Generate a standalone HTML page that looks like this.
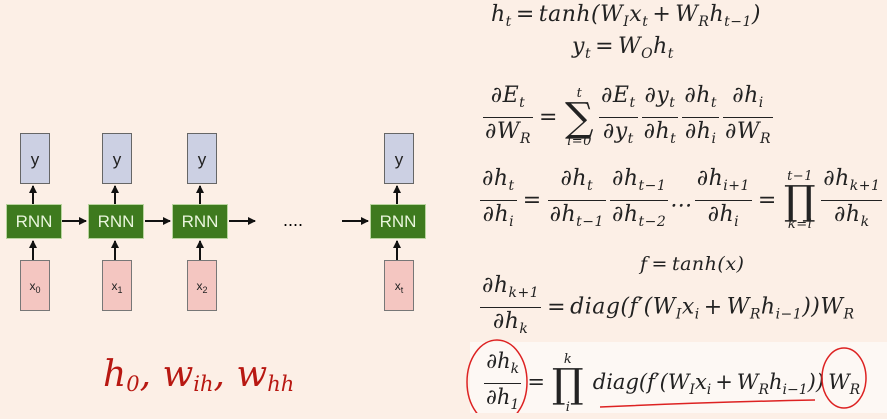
<!DOCTYPE html>
<html><head><style>
body{margin:0;width:887px;height:413px;background:#fcefe6;position:relative;overflow:hidden;font-family:"DejaVu Serif",serif;color:#222}
.a{position:absolute;white-space:nowrap}
.m{font-style:italic;font-size:22px;letter-spacing:0.5px}
.f{display:inline-block;vertical-align:middle;text-align:center;margin:0 2px}
.f>span{display:block;padding:0 2px;line-height:27px}
.f>.n{border-bottom:1.4px solid #222}
sub{font-size:14px;vertical-align:-5px}
.up{font-style:normal;margin:0 4px}
.big{display:inline-block;vertical-align:middle;text-align:center;font-style:normal;margin:0 3px}
.big .s{font-size:40px;line-height:34px;display:block}
.big .l{font-size:13px;font-style:italic;display:block;line-height:14px}
.box{position:absolute;box-sizing:border-box;font-family:"Liberation Sans",sans-serif;text-align:center}
.y{background:#ccd0e3;border:1.5px solid #666;width:30px;height:51px;top:133px;line-height:51px;font-size:17px}
.x{background:#f4c6c1;border:1.5px solid #777;width:30px;height:51px;top:260px;line-height:51px;font-size:12px}
.r{background:#3e7a1e;border:1.5px solid #b9d49e;width:56px;height:35px;top:204px;line-height:33px;color:#e9f5dc;font-size:17px}
</style></head><body>
<div style="position:absolute;left:470px;top:342px;width:417px;height:71px;background:#fdf8f4"></div>
<svg class="a" style="left:0;top:0" width="440" height="413">
<defs><marker id="h" markerWidth="8" markerHeight="8" refX="7" refY="4" orient="auto" markerUnits="userSpaceOnUse"><path d="M0,0L8,4L0,8z" fill="#111"/></marker></defs>
<g stroke="#111" stroke-width="2" marker-end="url(#h)">
<line x1="33" y1="204" x2="33" y2="186"/><line x1="115" y1="204" x2="115" y2="186"/><line x1="200" y1="204" x2="200" y2="186"/><line x1="397" y1="204" x2="397" y2="186"/>
<line x1="33" y1="260" x2="33" y2="241"/><line x1="115" y1="260" x2="115" y2="241"/><line x1="200" y1="260" x2="200" y2="241"/><line x1="397" y1="260" x2="397" y2="241"/>
<line x1="62" y1="221" x2="86" y2="221"/><line x1="145" y1="221" x2="170" y2="221"/><line x1="229" y1="221" x2="255" y2="221"/><line x1="342" y1="221" x2="368" y2="221"/>
</g>
<text x="283" y="226" font-size="18" font-family="Liberation Sans">....</text>
</svg>
<div class="box y" style="left:20px">y</div><div class="box y" style="left:102px">y</div><div class="box y" style="left:187px">y</div><div class="box y" style="left:384px">y</div>
<div class="box r" style="left:6px">RNN</div><div class="box r" style="left:88px">RNN</div><div class="box r" style="left:172px">RNN</div><div class="box r" style="left:370px">RNN</div>
<div class="box x" style="left:20px">x<sub style="font-size:9px;vertical-align:-3px">0</sub></div><div class="box x" style="left:102px">x<sub style="font-size:9px;vertical-align:-3px">1</sub></div><div class="box x" style="left:187px">x<sub style="font-size:9px;vertical-align:-3px">2</sub></div><div class="box x" style="left:384px">x<sub style="font-size:9px;vertical-align:-3px">t</sub></div>
<div class="a" style="left:103px;top:354px;font-size:36px;font-style:italic;color:#b81812;font-family:'DejaVu Serif',serif">h<sub style="font-size:21px">0</sub>, w<sub style="font-size:21px">ih</sub>, w<sub style="font-size:21px">hh</sub></div>

<div class="a m" style="left:491px;top:2px">h<sub>t</sub><span class="up">=</span>tanh(W<sub>I</sub>x<sub>t</sub><span class="up">+</span>W<sub>R</sub>h<sub>t−1</sub>)</div>
<div class="a m" style="left:572px;top:34px">y<sub>t</sub><span class="up">=</span>W<sub>O</sub>h<sub>t</sub></div>
<div class="a m" style="left:481px;top:82px"><span class="f"><span class="n">∂E<sub>t</sub></span><span>∂W<sub>R</sub></span></span><span class="up">=</span><span class="big"><span class="l">t</span><span class="s">∑</span><span class="l">i=0</span></span><span class="f"><span class="n">∂E<sub>t</sub></span><span>∂y<sub>t</sub></span></span><span class="f"><span class="n">∂y<sub>t</sub></span><span>∂h<sub>t</sub></span></span><span class="f"><span class="n">∂h<sub>t</sub></span><span>∂h<sub>i</sub></span></span><span class="f"><span class="n">∂h<sub>i</sub></span><span>∂W<sub>R</sub></span></span></div>
<div class="a m" style="left:478px;top:165px"><span class="f"><span class="n">∂h<sub>t</sub></span><span>∂h<sub>i</sub></span></span><span class="up">=</span><span class="f"><span class="n">∂h<sub>t</sub></span><span>∂h<sub>t−1</sub></span></span><span class="f"><span class="n">∂h<sub>t−1</sub></span><span>∂h<sub>t−2</sub></span></span>…<span class="f"><span class="n">∂h<sub>i+1</sub></span><span>∂h<sub>i</sub></span></span><span class="up">=</span><span class="big"><span class="l">t−1</span><span class="s">∏</span><span class="l">k=i</span></span><span class="f"><span class="n">∂h<sub>k+1</sub></span><span>∂h<sub>k</sub></span></span></div>
<div class="a m" style="left:640px;top:253px;font-size:19px">f<span class="up">=</span>tanh(x)</div>
<div class="a m" style="left:478px;top:272px"><span class="f"><span class="n">∂h<sub>k+1</sub></span><span>∂h<sub>k</sub></span></span><span class="up">=</span>diag(f′(W<sub>I</sub>x<sub>i</sub><span class="up">+</span>W<sub>R</sub>h<sub>i−1</sub>))W<sub>R</sub></div>
<div class="a m" style="left:482px;top:348px;font-size:21px;letter-spacing:0"><span class="f"><span class="n">∂h<sub>k</sub></span><span>∂h<sub>1</sub></span></span><span class="up">=</span><span class="big"><span class="l">k</span><span class="s">∏</span><span class="l">i</span></span><span style="margin-left:6px">diag(f′(W<sub>I</sub>x<sub>i</sub><span class="up">+</span>W<sub>R</sub>h<sub>i−1</sub>))</span><span style="margin-left:4px">W<sub>R</sub></span></div>
<svg class="a" style="left:460px;top:320px" width="427" height="93" fill="none" stroke="#d22" stroke-width="1.5">
<ellipse cx="37" cy="62" rx="30" ry="42"/>
<ellipse cx="384" cy="58" rx="22" ry="30"/>
<path d="M140 87 Q250 82 355 80"/>
</svg>
</body></html>
